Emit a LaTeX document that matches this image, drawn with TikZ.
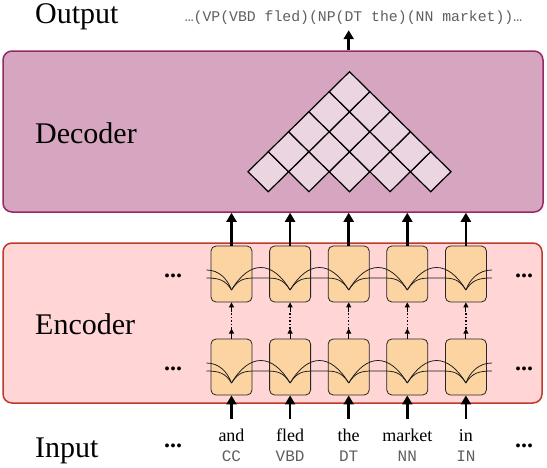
\documentclass[tikz,border=0pt]{standalone}
\usepackage{fontspec}
\setmainfont{Liberation Serif}
\setmonofont{Liberation Mono}
\usetikzlibrary{arrows.meta,calc}
\definecolor{decfill}{RGB}{214,165,192}
\definecolor{decline}{RGB}{150,40,100}
\definecolor{diamfill}{RGB}{235,213,225}
\definecolor{encfill}{RGB}{255,213,213}
\definecolor{encline}{RGB}{192,57,43}
\definecolor{lstmfill}{RGB}{252,212,162}
\definecolor{tagcol}{RGB}{95,95,95}
\begin{document}
\begin{tikzpicture}[x=1pt,y=-1pt,
  panel/.style={rounded corners=9pt, line width=1.5pt, inner sep=0pt},
  lstm/.style={draw=black!85, fill=lstmfill, rounded corners=5pt, minimum width=41pt, minimum height=56pt, inner sep=0pt, line width=0.8pt},
  diam/.style={draw=black, fill=diamfill, line width=1.2pt, line join=miter},
  bigarrow/.style={line width=2.6pt, -{Triangle[length=9pt,width=10pt]}},
  smallarrow/.style={line width=1pt, -{Triangle[length=5pt,width=5pt]}},
  biglabel/.style={font=\fontsize{30}{36}\selectfont, anchor=base west, inner sep=0pt},
  word/.style={font=\fontsize{18}{22}\selectfont, anchor=base, text height=12pt, text depth=4pt, inner xsep=0pt, inner ysep=10pt},
  tag/.style={font=\fontsize{16}{20}\selectfont\ttfamily, text=tagcol, anchor=base, inner sep=0pt},
  dotsl/.style={font=\fontsize{24}{28}\selectfont\bfseries, anchor=base, inner sep=0pt},
  wire/.style={line width=0.75pt, draw=black!90}
]
\useasboundingbox (0,0) rectangle (547,467);

% panels
\node[panel, draw=decline, fill=decfill, minimum width=540pt, minimum height=161pt] (dec) at (273,131.5) {};
\node[panel, draw=encline, fill=encfill, minimum width=539pt, minimum height=160pt] (enc) at (272.5,323) {};

% labels
\node[biglabel] (lout) at (35,23) {Output};
\node[biglabel] (ldec) at (35,143) {Decoder};
\node[biglabel] (lenc) at (35,334) {Encoder};
\node[biglabel] (linp) at (35,457) {Input};

% output sequence
\node[font=\fontsize{14.8}{18}\selectfont\ttfamily, text=tagcol, anchor=base, text depth=3pt, inner xsep=0pt, inner ysep=6pt] (out) at (353.5,21) {…(VP(VBD fled)(NP(DT the)(NN market))…};

% pyramid of diamonds
\foreach \r in {0,...,4}{
  \pgfmathtruncatemacro{\kmax}{4-\r}
  \foreach \k in {0,...,\kmax}{
    \pgfmathsetmacro{\cx}{268.3+20.3*\r+40.6*\k}
    \pgfmathsetmacro{\cy}{171.7-20*\r}
    \draw[diam] (\cx-20.3,\cy) -- (\cx,\cy-20) -- (\cx+20.3,\cy) -- (\cx,\cy+20) -- cycle;
  }
}

% encoder cells
\foreach \i/\x in {1/231.5,2/290.1,3/348.7,4/407.3,5/465.9}{
  \node[lstm] (t\i) at (\x,274) {};
  \node[lstm] (b\i) at (\x,367) {};
}

% wires inside encoder rows
\foreach \Y in {274,367}{
  \foreach \xa in {231.5,290.1,348.7,407.3}{
    \pgfmathsetmacro{\xb}{\xa+58.6}
    \draw[wire] (\xa,\Y+16) .. controls (\xa+18,\Y-14) and (\xb-18,\Y-14) .. (\xb,\Y+16);
    \draw[wire] (\xa,\Y+16) .. controls (\xa+7,\Y+5) and (\xa+13,\Y+4) .. (\xa+24,\Y+4) -- (\xb-24,\Y+4) .. controls (\xb-13,\Y+4) and (\xb-7,\Y+5) .. (\xb,\Y+16);
  }
  \draw[wire] (206.5,\Y-4) .. controls (219,\Y-4) and (227.5,\Y+5) .. (231.5,\Y+16);
  \draw[wire] (206.5,\Y+4) .. controls (219,\Y+4) and (225.5,\Y+6) .. (231.5,\Y+16);
  \draw[wire] (465.9,\Y+16) .. controls (469.9,\Y+5) and (478.9,\Y-4) .. (491.9,\Y-4);
  \draw[wire] (465.9,\Y+16) .. controls (471.9,\Y+6) and (478.9,\Y+4) .. (491.9,\Y+4);
}

% dots
\foreach \n/\y in {1/277,2/370,3/447}{
  \node[dotsl] (dl\n) at (173,\y) {...};
  \node[dotsl] (dr\n) at (524,\y) {...};
}

% words and tags
\foreach \i/\x/\w/\t in {1/231.5/and/CC,2/290.1/fled/VBD,3/348.7/the/DT,4/407.3/market/NN,5/465.9/in/IN}{
  \node[word] (w\i) at (\x,441) {\w};
  \node[tag] (g\i) at (\x,461) {\t};
  \draw[bigarrow] (w\i.north) -- (b\i.south);
  \draw[bigarrow] (t\i.north) -- (t\i.north |- dec.south);
  \draw[smallarrow] (b\i.north) -- ++(0,-10);
  \draw[dotted, line width=1.5pt] ($(b\i.north)+(0,-10)$) -- ($(t\i.south)+(0,10)$);
  \draw[smallarrow] ($(t\i.south)+(0,10)$) -- (t\i.south);
}

% output arrow
\draw[bigarrow] (t3.north |- dec.north) -- (t3.north |- out.south);
\end{tikzpicture}
\end{document}
